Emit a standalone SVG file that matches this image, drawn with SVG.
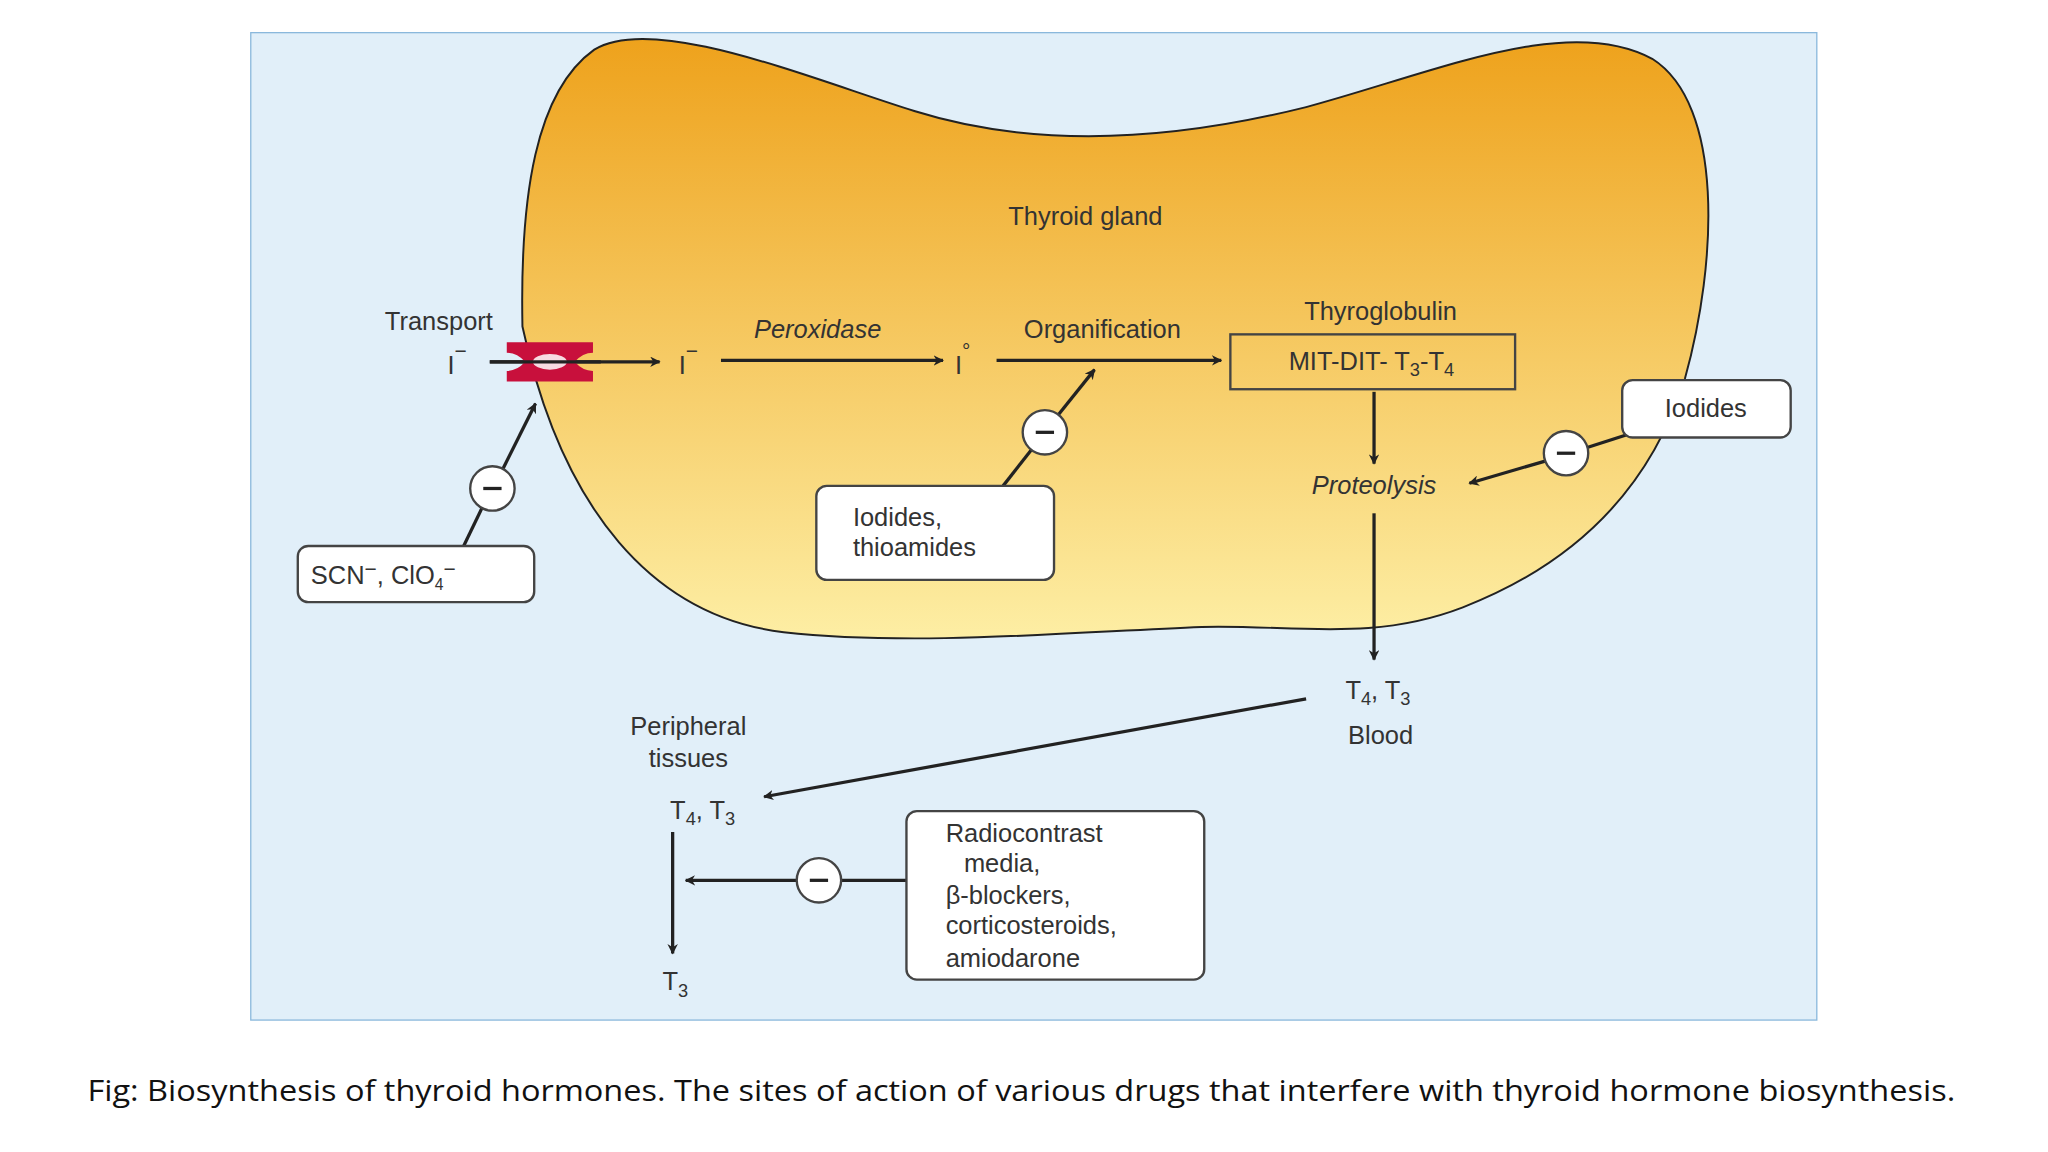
<svg xmlns="http://www.w3.org/2000/svg" width="2048" height="1152" viewBox="0 0 2048 1152">
<style>
text{font-family:"Liberation Sans",Arial,sans-serif;fill:#333;font-size:19.5px}
.c{text-anchor:middle}
.i{font-style:italic}
.ln{stroke:#222;stroke-width:2.5;fill:none}
.bx{fill:#fff;stroke:#444;stroke-width:1.8}
.cap{font-family:"Open Sans","Liberation Sans",sans-serif;font-size:23px;fill:#111}
</style>
<defs>
<linearGradient id="g" x1="0" y1="0" x2="0" y2="1"><stop offset="0" stop-color="#eea21c"/><stop offset="1" stop-color="#fdeea4"/></linearGradient>
<marker id="a" viewBox="0 0 10 10" refX="9" refY="5" markerWidth="8" markerHeight="8" markerUnits="userSpaceOnUse" orient="auto"><path d="M0,0L10,5L0,10L3,5Z" fill="#222"/></marker>
</defs>
<rect width="2048" height="1152" fill="#fff"/>
<g transform="scale(1.30612)">
<rect x="192" y="25" width="1199" height="756" fill="#e1eff9" stroke="#8ab8dc" stroke-width="1"/>
<g id="gland">
<path d="M400,250 C398,150 410,70 455,38 C500,10 620,60 700,85 C780,110 880,112 1000,82 C1100,55 1200,10 1265,45 C1320,80 1315,200 1290,290 C1265,370 1210,430 1120,465 C1050,492 990,478 920,480 C820,484 700,495 600,484 C500,472 430,390 400,250 Z" fill="url(#g)" stroke="#222" stroke-width="1.5"/>
<text class="c" x="831" y="172">Thyroid gland</text>
</g>
<g id="connectors">
<line class="ln" x1="375" y1="277" x2="505" y2="277" marker-end="url(#a)"/>
<line class="ln" x1="552" y1="276" x2="722" y2="276" marker-end="url(#a)"/>
<line class="ln" x1="763" y1="276" x2="935" y2="276" marker-end="url(#a)"/>
<line class="ln" x1="1052" y1="300" x2="1052" y2="355" marker-end="url(#a)"/>
<line class="ln" x1="1052" y1="393" x2="1052" y2="505" marker-end="url(#a)"/>
<line class="ln" x1="1245" y1="333" x2="1214" y2="343"/>
<line class="ln" x1="1183" y1="353" x2="1125" y2="370" marker-end="url(#a)"/>
<line class="ln" x1="768" y1="372" x2="790" y2="344"/>
<line class="ln" x1="810" y1="318" x2="838" y2="283" marker-end="url(#a)"/>
<line class="ln" x1="355" y1="418" x2="369" y2="389"/>
<line class="ln" x1="385" y1="359" x2="410" y2="309" marker-end="url(#a)"/>
<line class="ln" x1="1000" y1="535" x2="585" y2="610" marker-end="url(#a)"/>
<line class="ln" x1="515" y1="637" x2="515" y2="730" marker-end="url(#a)"/>
<line class="ln" x1="694" y1="674" x2="644" y2="674"/>
<line class="ln" x1="610" y1="674" x2="525" y2="674" marker-end="url(#a)"/>
</g>
<g id="transporter">
<path d="M388,262 h66 v8 q-8,0 -14,7 q6,7 14,7 v8 h-66 v-8 q8,0 14,-7 q-6,-7 -14,-7 Z" fill="#c8103c"/>
<ellipse cx="421" cy="277" rx="13" ry="6" fill="#fff" opacity="0.85"/>
<line class="ln" x1="375" y1="277" x2="460" y2="277" stroke-width="1.5"/>
</g>
<g id="labels">
<text class="c" x="336" y="253">Transport</text>
<text class="c" x="350" y="286">I<tspan dy="-12" font-size="16">−</tspan></text>
<text class="c" x="527" y="286">I<tspan dy="-12" font-size="16">−</tspan></text>
<text class="c i" x="626" y="259">Peroxidase</text>
<text class="c" x="737" y="286">I<tspan dy="-12" font-size="16">°</tspan></text>
<text class="c" x="844" y="259">Organification</text>
<text class="c" x="1057" y="245">Thyroglobulin</text>
<text class="c i" x="1052" y="378">Proteolysis</text>
<text class="c" x="1055" y="535">T<tspan font-size="14" dy="5">4</tspan><tspan dy="-5">, T</tspan><tspan font-size="14" dy="5">3</tspan></text>
<text class="c" x="1057" y="570">Blood</text>
<text class="c" x="527" y="563">Peripheral</text>
<text class="c" x="527" y="587">tissues</text>
<text class="c" x="538" y="627">T<tspan font-size="14" dy="5">4</tspan><tspan dy="-5">, T</tspan><tspan font-size="14" dy="5">3</tspan></text>
<text class="c" x="517" y="758">T<tspan font-size="14" dy="5">3</tspan></text>
</g>
<g id="mitdit">
<rect x="942" y="256" width="218" height="42" fill="none" stroke="#444" stroke-width="1.8"/>
<text class="c" x="1050" y="283">MIT-DIT- T<tspan font-size="14" dy="5">3</tspan><tspan dy="-5">-T</tspan><tspan font-size="14" dy="5">4</tspan></text>
</g>
<g id="iodides1">
<rect class="bx" x="1242" y="291" width="129" height="44" rx="8"/>
<text class="c" x="1306" y="319">Iodides</text>
</g>
<g id="iodides2">
<rect class="bx" x="625" y="372" width="182" height="72" rx="8"/>
<text x="653" y="403">Iodides,</text>
<text x="653" y="426">thioamides</text>
</g>
<g id="scn">
<rect class="bx" x="228" y="418" width="181" height="43" rx="8"/>
<text x="238" y="447">SCN<tspan dy="-6" font-size="16">−</tspan><tspan dy="6">, ClO</tspan><tspan dy="5" font-size="12">4</tspan><tspan dy="-11" font-size="16">−</tspan></text>
</g>
<g id="radio">
<rect class="bx" x="694" y="621" width="228" height="129" rx="8"/>
<text x="724" y="645">Radiocontrast</text>
<text x="738" y="668">media,</text>
<text x="724" y="692">β-blockers,</text>
<text x="724" y="715">corticosteroids,</text>
<text x="724" y="740">amiodarone</text>
</g>
<g id="minus">
<circle class="bx" cx="1199" cy="347" r="17"/><line class="ln" x1="1192" y1="347" x2="1206" y2="347" stroke-width="2"/>
<circle class="bx" cx="800" cy="331" r="17"/><line class="ln" x1="793" y1="331" x2="807" y2="331" stroke-width="2"/>
<circle class="bx" cx="377" cy="374" r="17"/><line class="ln" x1="370" y1="374" x2="384" y2="374" stroke-width="2"/>
<circle class="bx" cx="627" cy="674" r="17"/><line class="ln" x1="620" y1="674" x2="634" y2="674" stroke-width="2"/>
</g>
<text class="cap c" x="782" y="843" textLength="1430" lengthAdjust="spacingAndGlyphs">Fig:  Biosynthesis of thyroid hormones. The sites of action of various drugs that interfere with thyroid hormone biosynthesis.</text>
</g>
</svg>
